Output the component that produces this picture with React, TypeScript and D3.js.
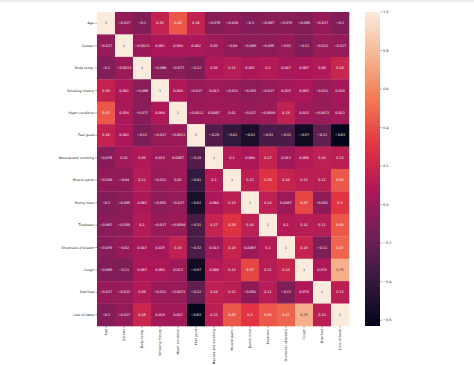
import * as React from 'react';
import * as d3 from 'd3';

// symptom labels, same order on both axes
const labels = [
  'Age',
  'Gender',
  'Body temp.',
  'Smoking history',
  'Heart condition',
  'Feel good',
  'Nausea and vomiting',
  'Muscle pains',
  'Runny nose',
  'Tiredness',
  'Shortness of breath',
  'Cough',
  'Diarrhea',
  'Loss of taste',
];

// correlation matrix, one row per label
const corrRows: number[][] = [
  [1, -0.027, -0.1, 0.16, 0.43, 0.16, -0.079, -0.038, -0.1, -0.067, -0.075, -0.095, -0.017, -0.1],
  [-0.027, 1, -0.0013, 0.061, 0.054, 0.062, 0.02, -0.04, -0.065, -0.055, -0.02, -0.11, -0.012, -0.027],
  [-0.1, -0.0013, 1, -0.066, -0.077, -0.12, 0.08, 0.11, 0.062, 0.1, 0.047, 0.067, 0.09, 0.19],
  [0.16, 0.061, -0.066, 1, 0.084, -0.017, 0.013, -0.011, -0.053, -0.017, 0.025, 0.063, -0.011, 0.028],
  [0.43, 0.054, -0.077, 0.084, 1, -0.0012, 0.0067, 0.01, -0.027, -0.0058, 0.15, 0.013, -0.0072, 0.022],
  [0.16, 0.062, -0.12, -0.017, -0.0012, 1, -0.28, -0.41, -0.52, -0.31, -0.32, -0.57, -0.22, -0.63],
  [-0.079, 0.02, 0.08, 0.013, 0.0067, -0.28, 1, 0.1, 0.064, 0.17, 0.013, 0.098, 0.14, 0.13],
  [-0.038, -0.04, 0.11, -0.011, 0.01, -0.41, 0.1, 1, 0.13, 0.29, 0.18, 0.13, 0.12, 0.43],
  [-0.1, -0.065, 0.062, -0.053, -0.027, -0.52, 0.064, 0.13, 1, 0.14, 0.0067, 0.37, -0.051, 0.3],
  [-0.067, -0.055, 0.1, -0.017, -0.0058, -0.31, 0.17, 0.29, 0.14, 1, 0.1, 0.11, 0.11, 0.43],
  [-0.075, -0.02, 0.047, 0.025, 0.15, -0.32, 0.013, 0.18, 0.0067, 0.1, 1, 0.18, -0.11, 0.47],
  [-0.095, -0.11, 0.067, 0.063, 0.013, -0.57, 0.098, 0.13, 0.37, 0.11, 0.18, 1, 0.078, 0.75],
  [-0.017, -0.012, 0.09, -0.011, -0.0072, -0.22, 0.14, 0.12, -0.051, 0.11, -0.11, 0.078, 1, 0.13],
  [-0.1, -0.027, 0.19, 0.028, 0.022, -0.63, 0.13, 0.43, 0.3, 0.43, 0.47, 0.75, 0.13, 1],
];

const colorbarTicks = [-0.6, -0.4, -0.2, 0, 0.2, 0.4, 0.6, 0.8, 1.0];

// seaborn "rocket" approximated by its key colours
const rocket = ['#03051a', '#35193e', '#701f57', '#ad1759', '#e13342', '#f37651', '#f6b48f', '#faebdd'];

const W = 474;
const H = 365;
const left = 97;
const right = 349;
const top = 12;
const bottom = 326;
const cbX = 365;
const cbW = 15;

function luminance(c: string) {
  const rgb = d3.rgb(c);
  const lin = (v: number) => {
    const s = v / 255;
    return s <= 0.03928 ? s / 12.92 : Math.pow((s + 0.055) / 1.055, 2.4);
  };
  return 0.2126 * lin(rgb.r) + 0.7152 * lin(rgb.g) + 0.0722 * lin(rgb.b);
}

export default function App() {
  const vmin = d3.min(corrRows.flat()) ?? -0.63;
  const vmax = 1;

  const x = d3.scaleBand<string>().domain(labels).range([left, right]);
  const y = d3.scaleBand<string>().domain(labels).range([top, bottom]);
  const color = d3.scaleSequential(d3.piecewise(d3.interpolateRgb, rocket)).domain([vmin, vmax]);
  const cbScale = d3.scaleLinear().domain([vmin, vmax]).range([bottom, top]);
  const fmt = d3.format('.2~g');

  const gradStops = d3.range(0, 1.0001, 0.02);

  return (
    <svg
      width={W}
      height={H}
      style={{ position: 'absolute', left: 0, top: 0, background: '#fff' }}
      fontFamily="DejaVu Sans, sans-serif"
    >
      <defs>
        <linearGradient id="cb" x1="0" y1="1" x2="0" y2="0">
          {gradStops.map((t) => (
            <stop key={t} offset={t} stopColor={color(vmin + t * (vmax - vmin))} />
          ))}
        </linearGradient>
      </defs>
      <rect x={0} y={0} width={W} height={2} fill="#ededed" />

      {corrRows.map((row, i) =>
        row.map((v, j) => {
          const fill = color(v);
          const cx = (x(labels[j]) ?? 0) + x.bandwidth() / 2;
          const cy = (y(labels[i]) ?? 0) + y.bandwidth() / 2;
          return (
            <g key={i + '-' + j}>
              <rect
                x={x(labels[j])}
                y={y(labels[i])}
                width={x.bandwidth() + 0.3}
                height={y.bandwidth() + 0.3}
                fill={fill}
              />
              <text
                x={cx}
                y={cy}
                fontSize={3.4}
                textAnchor="middle"
                dominantBaseline="central"
                fill={luminance(fill) > 0.408 ? '#262626' : '#ffffff'}
              >
                {fmt(v)}
              </text>
            </g>
          );
        })
      )}

      {/* row labels */}
      {labels.map((l) => {
        const cy = (y(l) ?? 0) + y.bandwidth() / 2;
        return (
          <g key={'r' + l}>
            <line x1={left - 2} x2={left} y1={cy} y2={cy} stroke="#333" strokeWidth={0.4} />
            <text x={left - 3} y={cy} fontSize={3.3} textAnchor="end" dominantBaseline="central" fill="#262626">
              {l}
            </text>
          </g>
        );
      })}

      {/* column labels */}
      {labels.map((l) => {
        const cx = (x(l) ?? 0) + x.bandwidth() / 2;
        return (
          <g key={'c' + l}>
            <line x1={cx} x2={cx} y1={bottom} y2={bottom + 2} stroke="#333" strokeWidth={0.4} />
            <text
              transform={`translate(${cx},${bottom + 3}) rotate(-90)`}
              fontSize={3.3}
              textAnchor="end"
              dominantBaseline="central"
              fill="#262626"
            >
              {l}
            </text>
          </g>
        );
      })}

      {/* colorbar */}
      <rect x={cbX} y={top} width={cbW} height={bottom - top} fill="url(#cb)" />
      {colorbarTicks.map((t) => (
        <g key={'t' + t}>
          <line
            x1={cbX + cbW}
            x2={cbX + cbW + 2}
            y1={cbScale(t)}
            y2={cbScale(t)}
            stroke="#333"
            strokeWidth={0.4}
          />
          <text x={cbX + cbW + 3} y={cbScale(t)} fontSize={3.5} dominantBaseline="central" fill="#262626">
            {d3.format('.1f')(t)}
          </text>
        </g>
      ))}
    </svg>
  );
}
